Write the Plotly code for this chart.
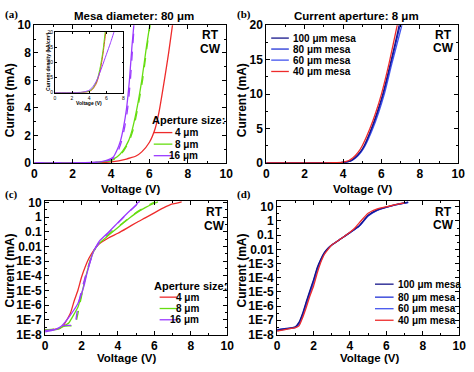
import plotly.graph_objects as go

# ---------------- data ----------------
# (a) mesa 80 um, linear I-V, aperture sizes (solid = measured, dashed = second set)
a4_v = [0, 1, 2, 3, 3.5, 4.0, 4.4, 4.8, 5.0, 5.3, 5.6, 6.0, 6.3, 6.5, 6.8, 7.0, 7.2, 7.3]
a4_i = [0, 0, 0, 0.005, 0.02, 0.07, 0.15, 0.28, 0.36, 0.5, 0.8, 1.5, 2.5, 3.7, 6.2, 8.0, 10.0, 10.9]
a8_v = [0, 1, 2, 3, 3.5, 4.0, 4.32, 4.6, 4.91, 5.1, 5.34, 5.6, 5.85, 6.05, 6.1]
a8_i = [0, 0, 0, 0.02, 0.07, 0.2, 0.44, 0.85, 1.6, 2.4, 3.9, 6.0, 8.5, 10.3, 10.8]
a8d_v = [0, 1, 2, 3, 3.5, 4.0, 4.35, 4.65, 4.95, 5.15, 5.38, 5.64, 5.88, 6.04, 6.1]
a8d_i = [0, 0, 0, 0.015, 0.06, 0.17, 0.42, 0.85, 1.6, 2.4, 3.9, 6.0, 8.5, 10.1, 10.7]
a16_v = [0, 1, 2, 3, 3.5, 3.8, 4.12, 4.3, 4.49, 4.65, 4.8, 4.95, 5.09, 5.2, 5.25]
a16_i = [0, 0, 0, 0.03, 0.1, 0.2, 0.44, 0.9, 1.6, 2.6, 3.9, 5.9, 8.5, 10.2, 11]
a16d_v = [0, 1, 2, 3, 3.5, 3.8, 4.15, 4.35, 4.55, 4.71, 4.86, 5.0, 5.13, 5.22, 5.27]
a16d_i = [0, 0, 0, 0.02, 0.07, 0.15, 0.38, 0.8, 1.6, 2.6, 3.9, 5.9, 8.5, 10.2, 11]

# inset: current density (kA/cm2) vs voltage
in4_v = [0, 2, 3, 3.5, 4.0, 4.4, 4.8, 5.0, 5.3, 5.6, 5.9, 6.0]
in4_j = [0, 0, 0.05, 0.15, 0.4, 1.1, 2.8, 4.3, 7.5, 12.5, 19, 21]
in8_v = [0, 2, 3, 3.5, 4.0, 4.4, 4.8, 5.0, 5.3, 5.6, 5.85, 5.95]
in8_j = [0, 0, 0.05, 0.2, 0.5, 1.3, 3.3, 4.8, 8.5, 13.5, 19.5, 21.5]
in16_v = [0, 2, 3, 3.5, 4.0, 4.4, 4.8, 5.0, 5.5, 6.0, 6.5, 6.9, 7.0]
in16_j = [0, 0, 0.1, 0.3, 0.8, 1.8, 3.6, 4.8, 8.5, 12.5, 16.5, 20, 20.8]

# (b) aperture 8 um, linear I-V, mesa sizes
b100_v = [0, 2, 3, 3.5, 4.0, 4.4, 4.6, 4.9, 5.1, 5.48, 5.77, 6.07, 6.47, 6.92, 6.98]
b80_v = [0, 2, 3, 3.5, 4.0, 4.4, 4.62, 4.92, 5.12, 5.5, 5.8, 6.1, 6.5, 6.97, 7.03]
b60_v = [0, 2, 3, 3.5, 4.0, 4.4, 4.65, 4.95, 5.15, 5.55, 5.85, 6.15, 6.55, 7.06, 7.12]
b_blue_i = [0, 0, 0.005, 0.02, 0.07, 0.3, 0.7, 1.6, 2.5, 5.0, 7.3, 10, 14.5, 20, 21]
b40_v = [0, 2, 3, 3.5, 4.0, 4.3, 4.5, 4.8, 5.0, 5.4, 5.7, 6.0, 6.4, 6.82, 6.9]
b40_i = [0, 0, 0.01, 0.03, 0.12, 0.35, 0.7, 1.6, 2.5, 5.0, 7.3, 10.0, 14.5, 20, 21]

# (c) mesa 80 um, log I-V
c4_v = [0, 0.5, 0.8, 1.0, 1.2, 1.4, 1.6, 1.8, 2.0, 2.2, 2.4, 2.6, 2.8, 3.0, 3.5, 4.0, 4.5, 5.0, 5.5, 6.0, 6.5, 7.0, 7.35, 7.5]
c4_i = [2e-8, 2.2e-8, 2.6e-8, 4e-8, 1e-7, 3e-7, 2e-6, 1e-5, 8e-5, 4e-4, 1.5e-3, 4e-3, 9e-3, 0.016, 0.04, 0.08, 0.18, 0.42, 0.9, 2.0, 4.3, 8.0, 10, 11]
c8_v = [0, 0.5, 0.8, 1.0, 1.3, 1.6, 1.8, 2.0, 2.2, 2.4, 2.6, 2.8, 3.0, 3.5, 4.0, 4.5, 5.0, 5.5, 6.0, 6.1, 6.2]
c8_i = [1.8e-8, 2e-8, 2.5e-8, 3.5e-8, 6e-8, 2.5e-7, 7e-7, 5e-6, 6e-5, 5e-4, 3e-3, 9e-3, 0.018, 0.06, 0.2, 0.65, 1.9, 4.5, 9, 10, 11]
c8d_v = [0, 0.5, 0.8, 1.0, 1.3, 1.6, 1.7, 1.8, 1.9, 2.0, 2.1, 2.2, 2.3, 2.4, 2.5, 2.6, 2.8, 3.0, 3.5, 4.0, 4.5, 5.0, 5.5, 5.95, 6.05]
c8d_i = [2e-8, 2.3e-8, 3e-8, 3.5e-8, 3.8e-8, 4e-8, 7e-8, 2.5e-7, 1e-6, 4e-6, 1.7e-5, 7e-5, 2.2e-4, 6e-4, 1.5e-3, 3e-3, 9e-3, 0.02, 0.07, 0.22, 0.7, 2.1, 5.0, 10, 11]
c16_v = [0, 0.5, 0.8, 1.0, 1.34, 1.6, 1.79, 2.0, 2.15, 2.3, 2.42, 2.6, 2.8, 3.0, 3.5, 4.0, 4.5, 5.0, 5.1, 5.2]
c16_i = [1.5e-8, 2e-8, 3e-8, 5e-8, 1.7e-7, 5e-7, 1.2e-6, 6e-6, 2.4e-5, 1.5e-4, 5e-4, 3e-3, 1e-2, 0.025, 0.1, 0.43, 1.8, 7, 10, 12]
c16d_v = [0, 0.5, 0.8, 1.0, 1.3, 1.6, 1.68, 1.75, 1.82, 1.9, 2.0, 2.1, 2.2, 2.3, 2.4, 2.5, 2.6, 2.7, 2.9, 3.0, 3.5, 4.0, 4.5, 5.0, 5.15, 5.25]
c16d_i = [1.8e-8, 2.2e-8, 3.5e-8, 4e-8, 4.1e-8, 4.2e-8, 8e-8, 3e-7, 1e-6, 3e-6, 1e-5, 3e-5, 8e-5, 2e-4, 5e-4, 1.2e-3, 3e-3, 6e-3, 0.013, 0.02, 0.09, 0.4, 1.7, 6.5, 10, 12]

# (d) aperture 8 um, log I-V
d_blue_v = [0, 0.5, 1.0, 1.2, 1.4, 1.6, 1.8, 2.0, 2.2, 2.4, 2.6, 2.8, 3.0, 3.5, 4.0, 4.5, 5.0, 5.5, 6.0, 6.5, 7.0, 7.2]
d100_i = [2e-8, 2.5e-8, 3.5e-8, 7e-8, 3e-7, 2e-6, 1.2e-5, 7e-5, 5e-4, 2e-3, 6e-3, 0.012, 0.02, 0.055, 0.15, 0.45, 2.5, 6, 9.5, 14, 19, 21]
d80_i = [2.2e-8, 2.6e-8, 3.2e-8, 6e-8, 2.5e-7, 1.6e-6, 1e-5, 6e-5, 4e-4, 1.8e-3, 5.5e-3, 0.012, 0.02, 0.055, 0.15, 0.42, 2.3, 5.8, 9.3, 13.8, 18.5, 20.5]
d60_i = [1.8e-8, 2.4e-8, 3e-8, 5e-8, 2e-7, 1.2e-6, 7e-6, 4e-5, 3e-4, 1.5e-3, 5e-3, 0.011, 0.02, 0.055, 0.15, 0.42, 2.2, 5.6, 9.2, 13.5, 18.2, 20]
d40_v = [0, 0.5, 1.0, 1.2, 1.4, 1.6, 1.8, 2.0, 2.2, 2.4, 2.6, 2.8, 3.0, 3.5, 4.0, 4.3, 4.6, 5.0, 5.5, 6.0, 6.5, 6.8, 7.0]
d40_i = [1.7e-8, 2.3e-8, 3e-8, 4e-8, 1.5e-7, 8e-7, 5e-6, 2.5e-5, 2e-4, 1.2e-3, 4.5e-3, 0.01, 0.02, 0.055, 0.16, 0.35, 1.0, 3.5, 7, 10, 14, 17, 19]

aperture_labels = ["4 μm", "8 μm", "16 μm"]
mesa_labels = ["100 μm mesa", "80 μm mesa", "60 μm mesa", "40 μm mesa"]
log_tickvals = [10, 1, 0.1, 0.01, 1e-3, 1e-4, 1e-5, 1e-6, 1e-7, 1e-8]
log_ticktext = ["10", "1", "0.1", "0.01", "1E-3", "1E-4", "1E-5", "1E-6", "1E-7", "1E-8"]

# ---------------- styling ----------------
W, H = 474, 372
RED, GREEN, PURPLE = "#ee2b2b", "#66dd11", "#9b3bff"
NAVY, BLUE, LBLUE = "#16168a", "#2233d6", "#4455ee"
SANS = "Liberation Sans, Arial"
SERIF = "Liberation Serif, DejaVu Serif, serif"


def fx(x):
    return x / W


def fy(y):
    return 1 - y / H


fig = go.Figure()


def add(xs, ys, color, ax, dash="solid", width=1.3, smoothing=0.6):
    fig.add_trace(go.Scatter(x=xs, y=ys, mode="lines", showlegend=False,
                             line=dict(color=color, width=width, dash=dash, shape="spline", smoothing=smoothing),
                             xaxis="x" + ax, yaxis="y" + ax, hoverinfo="skip"))


# (a)
add(a4_v, a4_i, RED, "")
add(a8_v, a8_i, GREEN, "")
add(a8d_v, a8d_i, GREEN, "", dash="dash")
add(a16_v, a16_i, PURPLE, "")
add(a16d_v, a16d_i, PURPLE, "", dash="dash")
# inset
add(in4_v, in4_j, RED, "5", width=1)
add(in8_v, in8_j, GREEN, "5", width=1)
add(in16_v, in16_j, PURPLE, "5", width=1)
# (b)
add(b60_v, b_blue_i, LBLUE, "2")
add(b80_v, b_blue_i, BLUE, "2")
add(b100_v, b_blue_i, NAVY, "2")
add(b40_v, b40_i, RED, "2")
# (c)
add(c4_v, c4_i, RED, "3", smoothing=0.4)
add(c8_v, c8_i, GREEN, "3", smoothing=0.4)
add(c8d_v, c8d_i, GREEN, "3", dash="dash", smoothing=0.3)
add(c16_v, c16_i, PURPLE, "3", smoothing=0.4)
add(c16d_v, c16d_i, PURPLE, "3", dash="dash", smoothing=0.3)
# (d)
add(d_blue_v, d60_i, LBLUE, "4", smoothing=0.4)
add(d_blue_v, d80_i, BLUE, "4", smoothing=0.4)
add(d_blue_v, d100_i, NAVY, "4", smoothing=0.4)
add(d40_v, d40_i, RED, "4", smoothing=0.4)

tickfont = dict(family=SANS, size=12, color="black", weight="bold")
base = dict(showline=True, linecolor="black", linewidth=1, mirror="ticks", ticks="inside",
            ticklen=4, tickwidth=1, tickcolor="black", showgrid=False, zeroline=False,
            tickfont=tickfont)


def lin_x(domain):
    return dict(base, domain=domain, range=[0, 10], tickvals=[0, 2, 4, 6, 8, 10],
                minor=dict(ticks="inside", ticklen=2, dtick=1, tick0=0, tickcolor="black"))


dom_a_x = [fx(32), fx(228)]
dom_b_x = [fx(269), fx(465)]
dom_c_x = [fx(43), fx(229)]
dom_d_x = [fx(280), fx(466)]
dom_top_y = [fy(162), fy(19)]
dom_bot_y = [fy(340.5), fy(201.7)]

minor_log = [10 ** (k + 0.5) for k in range(-9, 2)]

fig.update_layout(
    width=W, height=H, margin=dict(l=0, r=0, t=0, b=0),
    paper_bgcolor="white", plot_bgcolor="white", showlegend=False,
    xaxis=dict(lin_x(dom_a_x), anchor="y"),
    yaxis=dict(base, domain=dom_top_y, anchor="x", range=[0, 10], tickvals=[0, 2, 4, 6, 8, 10],
               minor=dict(ticks="inside", ticklen=2, dtick=1, tick0=0, tickcolor="black")),
    xaxis2=dict(lin_x(dom_b_x), anchor="y2"),
    yaxis2=dict(base, domain=dom_top_y, anchor="x2", range=[0, 20], tickvals=[0, 5, 10, 15, 20],
                minor=dict(ticks="inside", ticklen=2, dtick=2.5, tick0=0, tickcolor="black")),
    xaxis3=dict(lin_x(dom_c_x), anchor="y3"),
    yaxis3=dict(base, domain=dom_bot_y, anchor="x3", type="log", range=[-8.02, 1.1],
                tickvals=log_tickvals, ticktext=log_ticktext,
                minor=dict(ticks="inside", ticklen=2, tickvals=minor_log, tickcolor="black")),
    xaxis4=dict(lin_x(dom_d_x), anchor="y4"),
    yaxis4=dict(base, domain=dom_bot_y, anchor="x4", type="log", range=[-8.02, 1.4],
                tickvals=log_tickvals, ticktext=log_ticktext,
                minor=dict(ticks="inside", ticklen=2, tickvals=minor_log, tickcolor="black")),
    xaxis5=dict(base, domain=[fx(53), fx(123)], anchor="y5", range=[0, 8], tickvals=[0, 2, 4, 6, 8],
                ticklen=2, linewidth=0.8, tickfont=dict(family=SANS, size=5, color="black")),
    yaxis5=dict(base, domain=[fy(89), fy(26)], anchor="x5", range=[0, 20], tickvals=[0, 5, 10, 15, 20],
                ticklen=2, linewidth=0.8, tickfont=dict(family=SANS, size=5, color="black")),
)

ann = []


def text(x, y, s, size=12, family=SANS, xanchor="center", angle=0, weight="bold"):
    ann.append(dict(x=fx(x), y=fy(y), xref="paper", yref="paper", text=s, showarrow=False,
                    xanchor=xanchor, yanchor="middle", textangle=angle,
                    font=dict(family=family, size=size, color="black", weight=weight)))


# panel labels
text(0, 8, "(a)", size=11, family=SERIF, xanchor="left")
text(237, 8, "(b)", size=11, family=SERIF, xanchor="left")
text(0, 195, "(c)", size=11, family=SERIF, xanchor="left")
text(237, 195, "(d)", size=11, family=SERIF, xanchor="left")
# titles
text(134, 9, "Mesa diameter: 80 μm", size=11.5)
text(361, 9, "Current aperture: 8 μm", size=11.5)
# axis titles
for (xx, yy) in [(130, 189), (367, 189)]:
    text(xx, yy, "Voltage (V)", size=11.5)
for (xx, yy) in [(126, 365), (374, 365)]:
    text(xx, yy, "Voltage (V)", size=11.5)
for (xx, yy) in [(8, 97), (245, 97), (7, 274), (244, 274)]:
    text(xx, yy, "Current (mA)", size=12, angle=-90)
# RT / CW
for (xx, y1, y2) in [(212, 29, 44), (450, 29, 43), (216, 213, 228), (450, 212.5, 226.5)]:
    text(xx, y1, "RT", size=12)
    text(xx, y2, "CW", size=12)
# inset axis titles
text(88, 100, "Voltage (V)", size=5)
text(46, 57, "Current density (kA/cm²)", size=5, angle=-90)

shapes = []


def legend_item(x0, x1, y, color, label, tx, anchor):
    shapes.append(dict(type="line", xref="paper", yref="paper", x0=fx(x0), x1=fx(x1), y0=fy(y), y1=fy(y),
                       line=dict(color=color, width=1.3)))
    text(tx, y, label, size=10, xanchor=anchor)


# legend (a)
text(190, 117, "Aperture size:", size=11)
for yy, c, lab in zip([130.5, 142.5, 154.5], [RED, GREEN, PURPLE], aperture_labels):
    legend_item(154, 173, yy, c, lab, 201, "right")
# legend (c)
text(192, 289.5, "Aperture size:", size=11)
for yy, c, lab in zip([301.5, 313.3, 325], [RED, GREEN, PURPLE], aperture_labels):
    legend_item(160, 178, yy, c, lab, 202, "right")
# legend (b)
for yy, c, lab in zip([32.3, 43.7, 55.2, 67], [NAVY, BLUE, LBLUE, RED], mesa_labels):
    legend_item(274, 292, yy, c, lab, 294, "left")
# legend (d)
for yy, c, lab in zip([288, 301.5, 313.5, 325.5], [NAVY, BLUE, LBLUE, RED], mesa_labels):
    legend_item(380, 399, yy, c, lab, 401, "left")

fig.update_layout(annotations=ann, shapes=shapes)
fig.write_html("out.html", config={"displayModeBar": False},
               post_script="document.body.style.margin='0';document.body.style.overflow='hidden';")
